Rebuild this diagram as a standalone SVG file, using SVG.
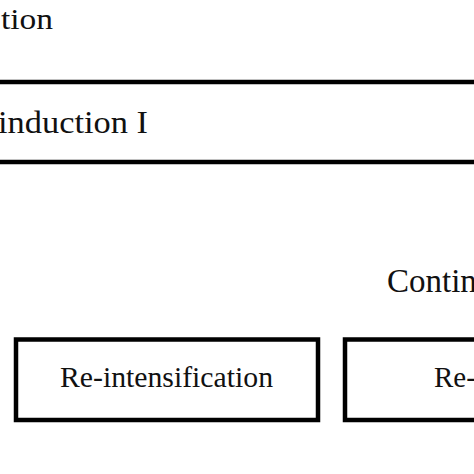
<svg xmlns="http://www.w3.org/2000/svg" width="474" height="474" viewBox="0 0 474 474">
<style>
  .box { fill: #ffffff; stroke: #000000; stroke-width: 4.5; }
  .lbl { font-family: "Liberation Serif", "Times New Roman", serif; fill: #111111; }
</style>
<rect x="0" y="0" width="474" height="474" fill="#ffffff"/>
<g id="title-top">
  <text class="lbl" x="1" y="29" font-size="30" textLength="52" lengthAdjust="spacingAndGlyphs">tion</text>
</g>
<g id="node-induction">
  <rect class="box" x="-10" y="82" width="494" height="80"/>
  <text class="lbl" x="-2" y="133" font-size="32" textLength="150" lengthAdjust="spacingAndGlyphs">induction I</text>
</g>
<g id="title-continuation">
  <text class="lbl" x="387" y="292" font-size="33">Contin</text>
</g>
<g id="node-reintensification">
  <rect class="box" x="16" y="339.5" width="302" height="80.5"/>
  <text class="lbl" x="60" y="387" font-size="29" textLength="213" lengthAdjust="spacingAndGlyphs">Re-intensification</text>
</g>
<g id="node-re">
  <rect class="box" x="345" y="339.5" width="150" height="80.5"/>
  <text class="lbl" x="434" y="387" font-size="29">Re-</text>
</g>
<g id="connectors"></g>
</svg>
